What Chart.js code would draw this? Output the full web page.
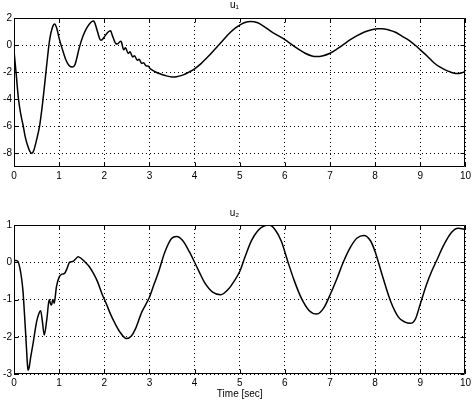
<!DOCTYPE html>
<html><head><meta charset="utf-8">
<script src="https://cdn.jsdelivr.net/npm/chart.js@4.4.0/dist/chart.umd.min.js"></script>
<style>
html,body{margin:0;padding:0;background:#fff;width:474px;height:402px;overflow:hidden}
#c1{position:absolute;left:0;top:0}
#c2{position:absolute;left:0;top:190px}
</style></head><body>
<canvas id="c1" width="474" height="190"></canvas>
<canvas id="c2" width="474" height="212"></canvas>
<script>
// ---- data ----
const xTicks = [0,1,2,3,4,5,6,7,8,9,10];
const u1YTicks = [-8,-6,-4,-2,0,2];
const u2YTicks = [-3,-2,-1,0,1];

const u1Time = [0.00,0.05,0.10,0.15,0.20,0.25,0.30,0.35,0.39,0.43,0.50,0.57,0.64,0.72,0.79,0.85,0.90,0.95,1.00,1.08,1.15,1.22,1.30,1.35,1.45,1.52,1.60,1.68,1.75,1.78,1.84,1.90,1.93,2.00,2.08,2.14,2.18,2.26,2.29,2.36,2.38,2.43,2.47,2.53,2.57,2.63,2.67,2.73,2.77,2.83,2.87,2.93,2.97,3.02,3.10,3.20,3.35,3.50,3.60,3.75,3.90,4.00,4.15,4.30,4.45,4.60,4.75,4.90,5.00,5.10,5.24,5.40,5.55,5.70,5.85,6.00,6.15,6.30,6.45,6.60,6.70,6.85,7.00,7.15,7.30,7.45,7.60,7.75,7.90,8.05,8.15,8.30,8.45,8.60,8.75,8.90,9.00,9.15,9.30,9.45,9.60,9.75,9.85,10.00];
const u1Values = [-0.4,-2.2,-4.0,-5.1,-5.9,-6.8,-7.4,-7.85,-7.98,-7.85,-7.0,-5.9,-4.1,-1.6,0.4,1.3,1.55,1.2,0.5,-0.4,-1.1,-1.5,-1.62,-1.45,-0.15,0.6,1.2,1.6,1.78,1.72,1.1,0.45,0.35,0.6,0.95,1.05,0.7,0.1,0.08,0.28,0.22,-0.35,-0.2,-0.62,-0.5,-0.88,-0.78,-1.12,-1.05,-1.35,-1.3,-1.55,-1.55,-1.75,-1.92,-2.08,-2.25,-2.35,-2.33,-2.2,-1.95,-1.75,-1.35,-0.85,-0.3,0.25,0.8,1.25,1.48,1.65,1.75,1.65,1.35,1.0,0.7,0.4,0.05,-0.3,-0.6,-0.8,-0.85,-0.78,-0.6,-0.3,0.05,0.4,0.7,0.95,1.12,1.2,1.21,1.12,0.95,0.65,0.35,-0.05,-0.35,-0.8,-1.3,-1.65,-1.9,-2.08,-2.1,-1.95];

const u2Time = [0.00,0.05,0.09,0.13,0.17,0.20,0.23,0.26,0.29,0.31,0.33,0.37,0.42,0.50,0.55,0.59,0.63,0.67,0.73,0.78,0.81,0.83,0.86,0.89,0.94,1.00,1.06,1.12,1.18,1.23,1.30,1.36,1.42,1.49,1.58,1.67,1.76,1.85,1.95,2.04,2.14,2.24,2.35,2.49,2.60,2.69,2.83,3.00,3.10,3.20,3.34,3.49,3.60,3.74,3.89,4.00,4.10,4.22,4.40,4.58,4.75,4.88,5.00,5.11,5.26,5.41,5.55,5.65,5.78,5.92,6.07,6.21,6.36,6.54,6.71,6.87,7.00,7.15,7.30,7.46,7.60,7.75,7.90,8.00,8.15,8.34,8.52,8.65,8.78,8.89,9.00,9.14,9.25,9.36,9.51,9.69,9.84,10.00];
const u2Values = [0.05,0.05,0.02,-0.16,-0.45,-0.79,-1.35,-1.95,-2.6,-2.9,-2.85,-2.55,-2.2,-1.6,-1.38,-1.3,-1.6,-1.95,-1.5,-1.0,-1.12,-1.15,-1.0,-1.1,-0.66,-0.4,-0.32,-0.3,-0.15,0.0,0.02,0.08,0.15,0.1,0.0,-0.12,-0.3,-0.52,-0.85,-1.1,-1.4,-1.65,-1.88,-2.05,-1.98,-1.79,-1.34,-0.94,-0.6,-0.27,0.27,0.64,0.69,0.58,0.27,0.0,-0.25,-0.54,-0.8,-0.87,-0.72,-0.5,-0.25,0.12,0.58,0.86,0.98,1.0,0.88,0.57,0.0,-0.5,-0.95,-1.3,-1.39,-1.21,-0.88,-0.45,0.02,0.42,0.65,0.72,0.57,0.28,-0.32,-1.04,-1.48,-1.6,-1.64,-1.53,-1.12,-0.59,-0.25,0.04,0.44,0.8,0.91,0.88];

// ---- chart setup ----
Chart.defaults.font.family = '"Liberation Sans", Arial, Helvetica, sans-serif';
Chart.defaults.font.size = 10;
Chart.defaults.color = '#000';

const boxPlugin = {
  id: 'matlabBox',
  afterDatasetsDraw(chart) {
    const {ctx, chartArea: a, scales} = chart;
    ctx.save();
    ctx.strokeStyle = '#000';
    ctx.lineWidth = 1;
    ctx.setLineDash([]);
    const L = Math.round(a.left) + 0.5, R = Math.round(a.right) - 0.5;
    const T = Math.round(a.top) + 0.5, B = Math.round(a.bottom) - 0.5;
    ctx.beginPath();
    ctx.rect(L, T, R - L, B - T);
    // inward tick marks
    scales.x.ticks.forEach(tk => {
      const px = Math.round(scales.x.getPixelForValue(tk.value)) + 0.5;
      ctx.moveTo(px, B); ctx.lineTo(px, B - 4);
      ctx.moveTo(px, T); ctx.lineTo(px, T + 4);
    });
    scales.y.ticks.forEach(tk => {
      const py = Math.round(scales.y.getPixelForValue(tk.value)) + 0.5;
      ctx.moveTo(L, py); ctx.lineTo(L + 4, py);
      ctx.moveTo(R, py); ctx.lineTo(R - 4, py);
    });
    ctx.stroke();
    ctx.restore();
  }
};

function makeChart(id, t, v, yTicks, yMin, yMax, title, titlePad, xHeight, xTitle) {
  const pts = t.map((x, i) => ({x: x, y: v[i]}));
  return new Chart(document.getElementById(id), {
    type: 'line',
    data: {datasets: [{data: pts, borderColor: '#000', borderWidth: 1.5, pointRadius: 0,
      cubicInterpolationMode: 'monotone', fill: false}]},
    options: {
      responsive: false, animation: false, events: [],
      layout: {padding: {left: 0, right: 5, top: 0, bottom: 0}},
      plugins: {
        legend: {display: false}, tooltip: {enabled: false},
        title: {display: true, text: title, color: '#000',
          font: {size: 10, weight: 'normal', lineHeight: 1}, padding: titlePad}
      },
      scales: {
        x: {type: 'linear', min: 0, max: 10,
          afterBuildTicks: s => { s.ticks = xTicks.map(val => ({value: val})); },
          afterFit: s => { s.height = xHeight; },
          ticks: {padding: 3, maxRotation: 0, autoSkip: false, color: '#000'},
          grid: {color: '#000', lineWidth: 1, drawTicks: false},
          border: {display: false, dash: [1, 3]},
          title: xTitle ? {display: true, text: xTitle, color: '#000', font: {size: 10}, padding: {top: 0, bottom: 2}} : {display: false}
        },
        y: {type: 'linear', min: yMin, max: yMax,
          afterBuildTicks: s => { s.ticks = yTicks.map(val => ({value: val})); },
          afterFit: s => { s.width = 14; },
          ticks: {padding: 2, autoSkip: false, color: '#000'},
          grid: {color: '#000', lineWidth: 1, drawTicks: false},
          border: {display: false, dash: [1, 3]}
        }
      }
    },
    plugins: [boxPlugin]
  });
}

makeChart('c1', u1Time, u1Values, u1YTicks, -9, 2, 'u\u2081', {top: 0, bottom: 8}, 23, null);
makeChart('c2', u2Time, u2Values, u2YTicks, -3, 1, 'u\u2082', {top: 18, bottom: 7}, 28, 'Time [sec]');
</script>
</body></html>
